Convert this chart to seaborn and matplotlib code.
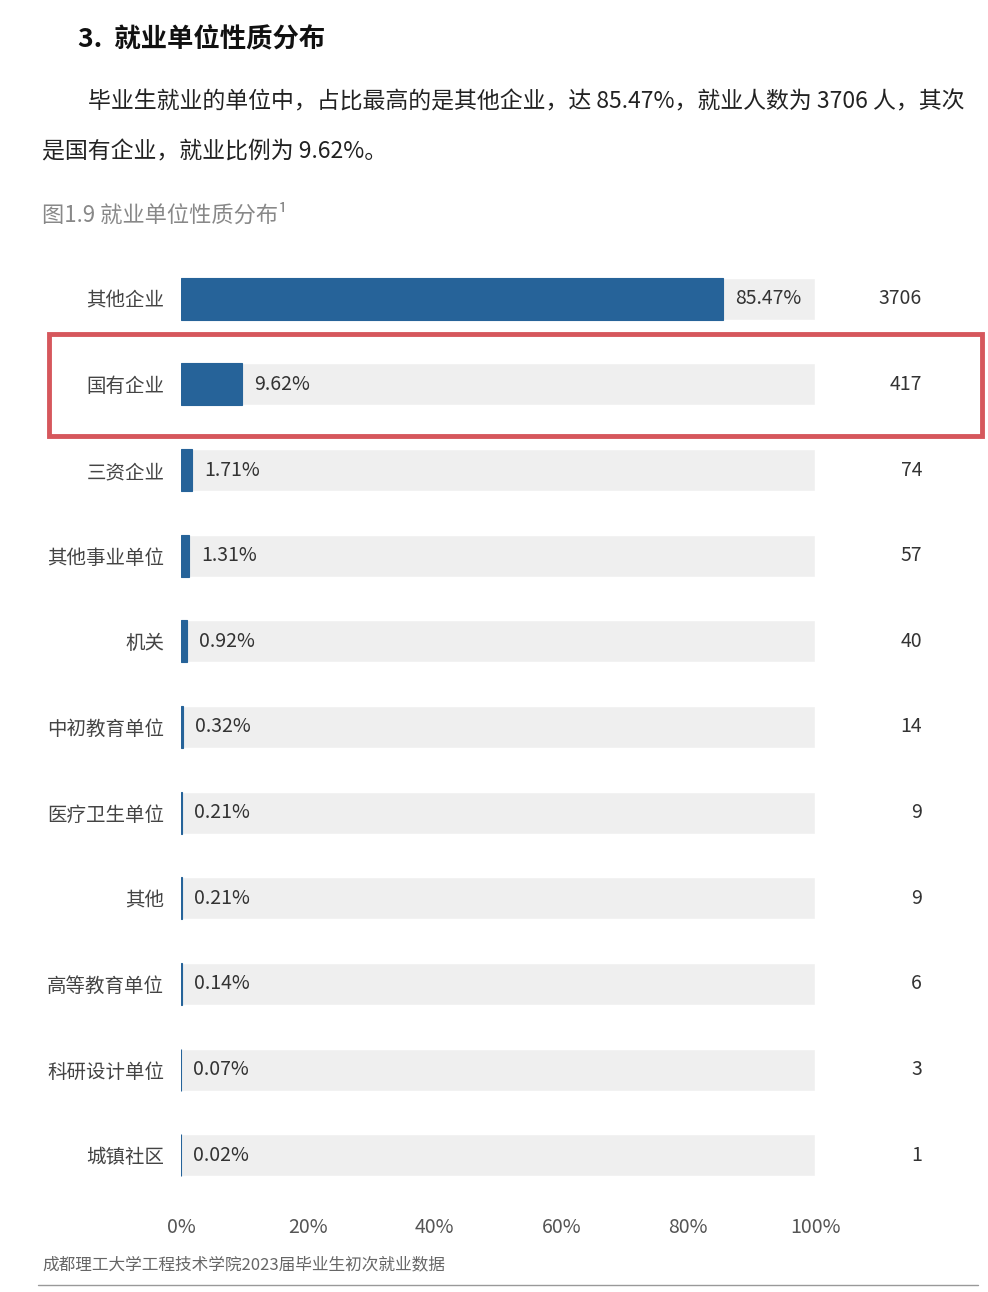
import matplotlib
matplotlib.use("Agg")
import matplotlib.pyplot as plt
import seaborn as sns
import pandas as pd
from matplotlib.patches import Rectangle
from matplotlib.lines import Line2D

categories = ["其他企业", "国有企业", "三资企业", "其他事业单位", "机关", "中初教育单位",
              "医疗卫生单位", "其他", "高等教育单位", "科研设计单位", "城镇社区"]
percents = [85.47, 9.62, 1.71, 1.31, 0.92, 0.32, 0.21, 0.21, 0.14, 0.07, 0.02]
counts = [3706, 417, 74, 57, 40, 14, 9, 9, 6, 3, 1]
xticks = [0, 20, 40, 60, 80, 100]

sns.set_theme(style="white")
plt.rcParams['font.family'] = ['Noto Sans CJK SC', 'DejaVu Sans']

df = pd.DataFrame({"cat": categories, "pct": percents, "full": [100] * len(categories)})

W, H = 988, 1292
fig = plt.figure(figsize=(W / 100, H / 100), dpi=100)
ax = fig.add_axes([181 / W, 1 - 1198 / H, 634 / W, 942 / H])

sns.barplot(data=df, y="cat", x="full", color="#efefef", width=0.49, ax=ax, saturation=1)
sns.barplot(data=df, y="cat", x="pct", color="#266399", width=0.49, ax=ax, saturation=1,
            edgecolor="#266399", linewidth=0.8)
ax.set_xlim(0, 100)
ax.set_ylim(10.5, -0.5)
ax.set_xlabel("")
ax.set_ylabel("")
for s in ax.spines.values():
    s.set_visible(False)
ax.set_xticks(xticks)
ax.set_xticklabels([f"{t}%" for t in xticks], fontsize=14, color="#555555")
ax.tick_params(axis="x", length=0, pad=14)
ax.set_yticks(range(len(categories)))
ax.set_yticklabels(categories, fontsize=14, color="#444444")
ax.tick_params(axis="y", length=0, pad=12)

for i, (p, c) in enumerate(zip(percents, counts)):
    ax.text(p + 1.9, i, f"{p:.2f}%", va="center", ha="left", fontsize=14, color="#333333")
    ax.text(116.9, i, str(c), va="center", ha="right", fontsize=14, color="#333333")

fig.text(78 / W, 1 - 40 / H, "3.  就业单位性质分布", fontsize=19, fontweight="bold",
         va="center", ha="left", color="#111111")
fig.text(88 / W, 1 - 102 / H, "毕业生就业的单位中，占比最高的是其他企业，达 85.47%，就业人数为 3706 人，其次",
         fontsize=16.5, va="center", ha="left", color="#222222")
fig.text(42 / W, 1 - 152 / H, "是国有企业，就业比例为 9.62%。",
         fontsize=16.5, va="center", ha="left", color="#222222")
fig.text(42 / W, 1 - 215 / H, "图1.9 就业单位性质分布¹", fontsize=16, va="center",
         ha="left", color="#888888")
fig.text(42 / W, 1 - 1265 / H, "成都理工大学工程技术学院2023届毕业生初次就业数据", fontsize=12,
         va="center", ha="left", color="#666666")
fig.add_artist(Line2D([38 / W, 978 / W], [1 - 1285 / H] * 2, color="#999999", lw=1,
                      transform=fig.transFigure))
fig.add_artist(Rectangle((49 / W, 1 - 436 / H), 933 / W, 102 / H, fill=False,
                         edgecolor="#d6575c", lw=3.5, transform=fig.transFigure))

fig.savefig("out.png", dpi=100, facecolor="white")
